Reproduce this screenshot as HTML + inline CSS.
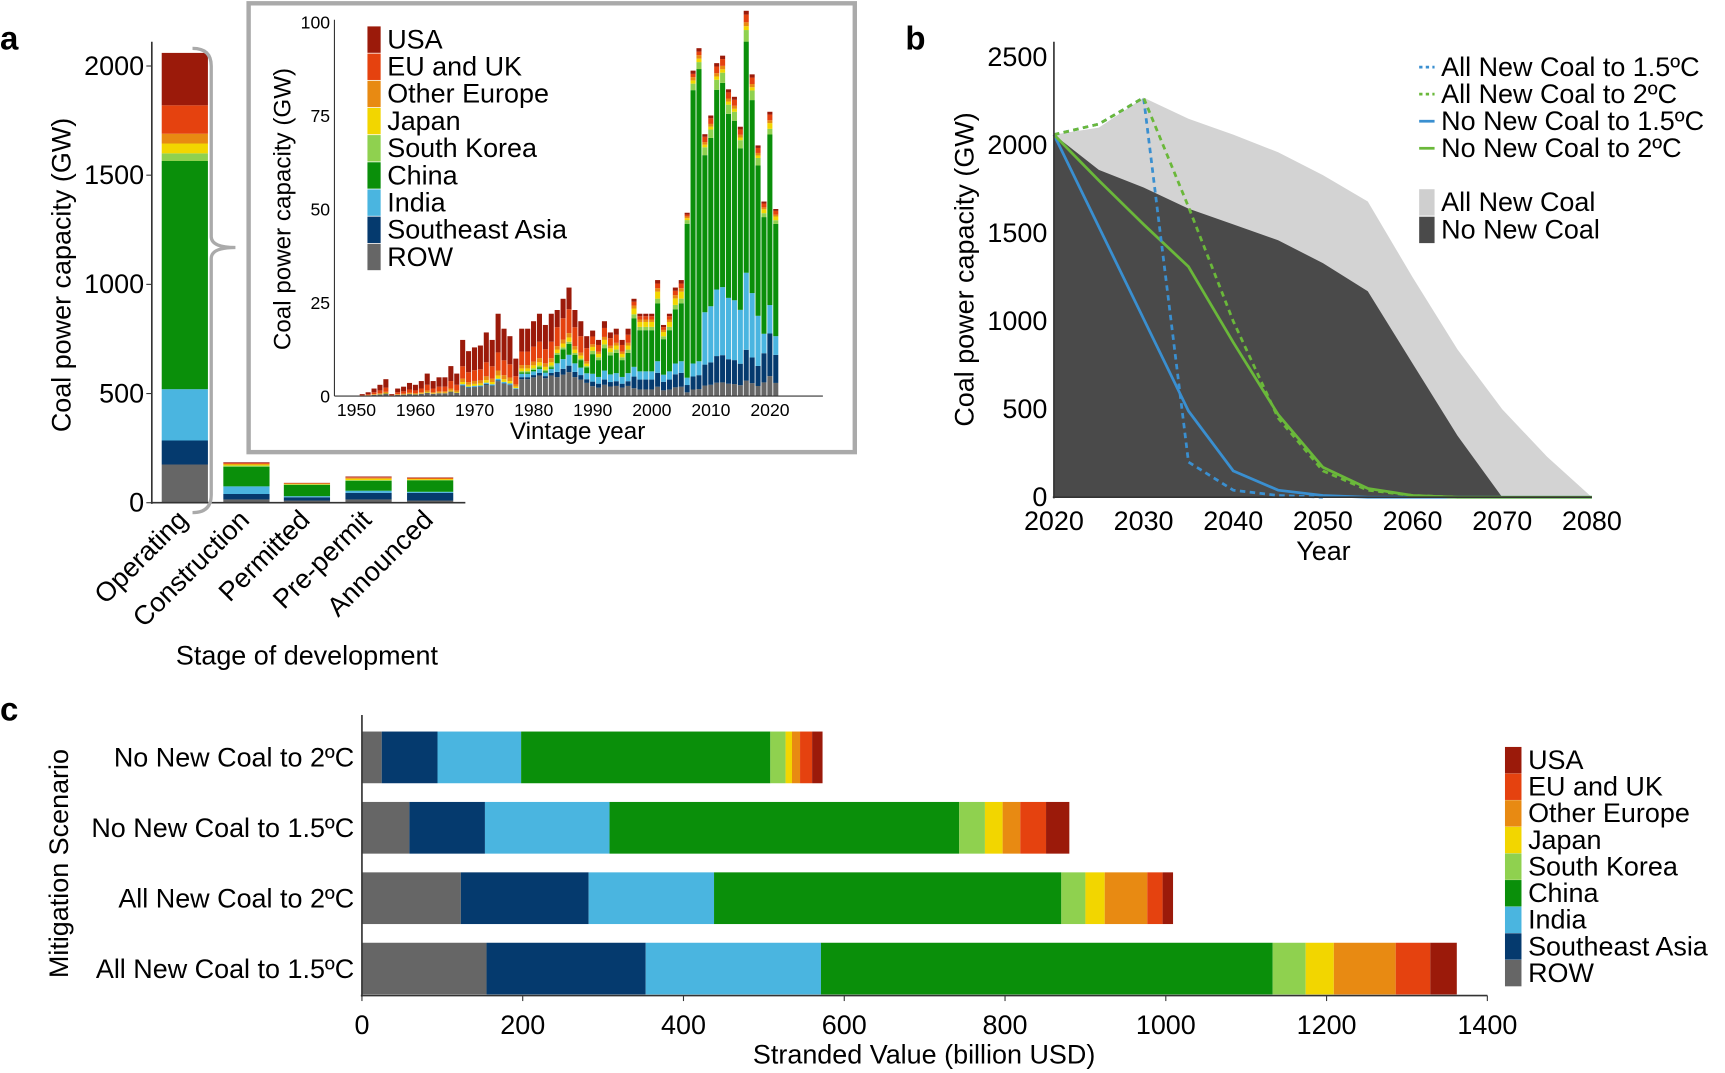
<!DOCTYPE html>
<html><head><meta charset="utf-8"><style>
html,body{margin:0;padding:0;background:#fff;width:1725px;height:1073px;overflow:hidden}
svg{display:block}
text{font-family:"Liberation Sans",Arial,sans-serif;fill:#000}
</style></head><body>
<svg id="s" width="1725" height="1073" viewBox="0 0 1568 975.4" preserveAspectRatio="none" xmlns="http://www.w3.org/2000/svg"></svg>
<script>
var S=document.getElementById('s'),h='';var F=24.5;
var C=['#666666','#053a6e','#4ab5e0','#0a8f0a','#8fd14f','#f2d600','#e88a12','#e5420f','#9b1a0a'];
var NAMES=['USA','EU and UK','Other Europe','Japan','South Korea','China','India','Southeast Asia','ROW'];
function R(x,y,w,hh,f){return '<rect x="'+x.toFixed(2)+'" y="'+y.toFixed(2)+'" width="'+w.toFixed(2)+'" height="'+Math.max(0,hh).toFixed(2)+'" fill="'+f+'"/>';}
function T(x,y,s,fs,a,ex){return '<text x="'+x+'" y="'+y+'" font-size="'+fs+'" text-anchor="'+(a||'start')+'" '+(ex||'')+'>'+s+'</text>';}
// ---- panel a left
h+=T(0,45,'a',30,'start','font-weight="bold"');
var ya=function(v){return 457-v*397/2000;};
[0,500,1000,1500,2000].forEach(function(v){h+=T(131,ya(v)+8,v,F,'end');h+='<line x1="133" x2="138" y1="'+ya(v)+'" y2="'+ya(v)+'" stroke="#333"/>';});
var stacks=[[147,[175,285,520,1565,1600,1645,1690,1820,2060]],[203,[15,40,75,165,170,175,178,182,185]],[258,[10,25,30,82,84,86,88,90,91]],[314,[15,45,55,100,104,110,114,117,120]],[370,[10,45,50,102,104,108,111,114,116]]];
stacks.forEach(function(s){var p=0;s[1].forEach(function(v,i){h+=R(s[0],ya(v),42,ya(p)-ya(v),C[i]);p=v;});});
h+='<line x1="138" y1="38" x2="138" y2="458" stroke="#333" stroke-width="1.5"/><line x1="137" y1="457" x2="423" y2="457" stroke="#333" stroke-width="1.5"/>';
h+='<path d="M175,44 Q192,44 192,60 L192,215 Q192,225 214,225 Q192,225 192,235 L192,450 Q192,466 175,466" fill="none" stroke="#aaa" stroke-width="3"/>';
['Operating','Construction','Permitted','Pre-permit','Announced'].forEach(function(l,i){var x=[172,228,283,339,395][i];h+=T(x,474,l,F,'end','transform="rotate(-45 '+x+' 474)"');});
h+=T(279,604,'Stage of development',F,'middle');
h+=T(0,0,'Coal power capacity (GW)',F,'middle','transform="translate(64,250) rotate(-90)"');
// ---- inset
h+='<rect x="226" y="3" width="551" height="408" fill="#fff" stroke="#aaa" stroke-width="4"/>';
var yi=function(v){return 360-v*3.4;};var xi=function(y){return 324+(y-1950)*5.37;};
[0,25,50,75,100].forEach(function(v){h+=T(300,yi(v)+6,v,16,'end');});
var tot={1951:.5,1952:1,1953:2,1954:3,1955:4.5,1956:.5,1957:2,1958:2.5,1959:3.5,1960:3,1961:4,1962:6,1963:4,1964:5,1965:5,1966:8,1967:6,1968:15,1969:12,1970:13,1971:13.5,1972:17,1973:15,1974:22,1975:18,1976:16,1977:10,1978:18,1979:18,1980:20,1981:22,1982:19,1983:22,1984:23,1985:26,1986:29,1987:23,1988:20,1989:16,1990:17.5,1991:15,1992:20,1993:17,1994:18,1995:15,1996:18,1997:26,1998:22,1999:22,2000:22,2001:31,2002:19,2003:22,2004:29,2005:31,2006:49,2007:87,2008:93,2009:70,2010:75,2011:89,2012:91,2013:82,2014:80,2015:72,2016:103,2017:86,2018:67,2019:52,2020:76,2021:50};
function comp(y){
 if(y<1968)return[.15,0,0,0,0,.03,.07,.25,.5];
 if(y<1978)return[.18,.01,.02,0,0,.04,.06,.22,.47];
 if(y<1984)return[.25,.03,.05,.02,.02,.04,.05,.2,.34];
 if(y<1990)return[.22,.06,.1,.1,.02,.04,.04,.22,.2];
 if(y<1997)return[.15,.07,.12,.3,.05,.06,.04,.12,.09];
 if(y<2006)return[.08,.12,.1,.5,.04,.06,.03,.04,.03];
 if(y<2009)return[.02,.04,.04,.84,.02,.01,.01,.01,.01];
 if(y<2019)return[.04,.08,.2,.6,.03,.01,.01,.02,.01];
 return[.07,.15,.1,.6,.02,.02,.01,.02,.01];}
for(var y in tot){var c=comp(+y),p=0,x=xi(+y)-2.4;c.forEach(function(f,i){var v=p+f*tot[y];h+=R(x,yi(v),4.6,yi(p)-yi(v),C[i]);p=v;});}
h+='<line x1="304" y1="18" x2="304" y2="360" stroke="#333"/><line x1="304" y1="360" x2="748" y2="360" stroke="#333"/>';
for(var yr=1950;yr<=2020;yr+=10)h+=T(xi(yr),378,yr,16,'middle');
h+=T(525,399,'Vintage year',22,'middle');
h+=T(0,0,'Coal power capacity (GW)',22,'middle','transform="translate(264,190) rotate(-90)"');
NAMES.forEach(function(n,i){var yy=24+i*24.7;h+=R(334,yy,12,24,C[8-i]);h+=T(352,yy+20,n,F);});
// ---- panel b
h+=T(823,45,'b',30,'start','font-weight="bold"');
var xb=function(y){return 958+(y-2020)*8.15;},yb=function(v){return 452-v*0.16;};
function pts(a){return a.map(function(p){return xb(p[0]).toFixed(1)+','+yb(p[1]).toFixed(1);}).join(' ');}
var light=[[2020,2060],[2025,2100],[2030,2270],[2035,2150],[2040,2060],[2045,1960],[2050,1830],[2055,1680],[2060,1250],[2065,840],[2070,500],[2075,230],[2080,0]];
var dark=[[2020,2060],[2025,1860],[2030,1760],[2035,1640],[2040,1550],[2045,1460],[2050,1330],[2055,1170],[2060,760],[2065,350],[2070,0]];
h+='<polygon points="'+pts(light.concat([[2020,0]]))+'" fill="#d3d3d3"/>';
h+='<polygon points="'+pts(dark.concat([[2020,0]]))+'" fill="#4a4a4a"/>';
function ln(a,col,d){h+='<polyline points="'+pts(a)+'" fill="none" stroke="'+col+'" stroke-width="2.5" '+(d?'stroke-dasharray="5,4"':'')+'/>';}
var B='#3a8fd0',G='#6ab83a';
ln([[2020,2060],[2035,490],[2040,150],[2045,40],[2050,10],[2055,0],[2080,0]],B);
ln([[2020,2060],[2025,1800],[2030,1550],[2035,1310],[2040,880],[2045,470],[2050,170],[2055,50],[2060,10],[2065,0],[2080,0]],G);
ln([[2020,2060],[2025,2120],[2030,2270],[2035,200],[2040,40],[2045,10],[2050,0]],B,1);
ln([[2020,2060],[2025,2120],[2030,2270],[2035,1650],[2040,1000],[2045,450],[2050,150],[2055,40],[2060,10],[2065,0]],G,1);
h+='<line x1="958" y1="38" x2="958" y2="453" stroke="#333" stroke-width="1.5"/><line x1="957" y1="452" x2="1447" y2="452" stroke="#333" stroke-width="1.5"/>';
[0,500,1000,1500,2000,2500].forEach(function(v){h+=T(952,yb(v)+8,v,F,'end');});
for(var yr=2020;yr<=2080;yr+=10)h+=T(xb(yr),482,yr,F,'middle');
h+=T(1203,509,'Year',F,'middle');
h+=T(0,0,'Coal power capacity (GW)',F,'middle','transform="translate(885,245) rotate(-90)"');
[['All New Coal to 1.5ºC',B,1],['All New Coal to 2ºC',G,1],['No New Coal to 1.5ºC',B,0],['No New Coal to 2ºC',G,0]].forEach(function(e,i){var yy=61+i*24.6;h+='<line x1="1290" x2="1304" y1="'+yy+'" y2="'+yy+'" stroke="'+e[1]+'" stroke-width="2.5" '+(e[2]?'stroke-dasharray="3,3"':'')+'/>';h+=T(1310,yy+8,e[0],F);});
h+=R(1290,172,14,24,'#cfcfcf')+R(1290,197,14,24,'#4a4a4a');
h+=T(1310,192,'All New Coal',F)+T(1310,217,'No New Coal',F);
// ---- panel c
h+=T(0,655,'c',30,'start','font-weight="bold"');
var xc=function(v){return 329+v*0.7307;};
var rows=[['No New Coal to 2ºC',665,[24.6,94,198,508,527,535,545,560,573]],['No New Coal to 1.5ºC',729,[59,153,308,743,775,797,819,851,880]],['All New Coal to 2ºC',793,[123,282,438,870,900,924,977,996,1009]],['All New Coal to 1.5ºC',857,[155,353,571,1133,1174,1209,1286,1329,1362]]];
rows.forEach(function(r){var p=0;r[2].forEach(function(v,i){h+=R(xc(p),r[1],xc(v)-xc(p),47,C[i]);p=v;});h+=T(322,r[1]+32,r[0],F,'end');});
h+='<line x1="329" y1="650" x2="329" y2="906" stroke="#333" stroke-width="1.5"/><line x1="328" y1="905" x2="1352" y2="905" stroke="#333" stroke-width="1.5"/>';
for(var v=0;v<=1400;v+=200){h+='<line x1="'+xc(v)+'" x2="'+xc(v)+'" y1="905" y2="910" stroke="#333"/>';h+=T(xc(v),940,v,F,'middle');}
h+=T(840,967,'Stranded Value (billion USD)',F,'middle');
h+=T(0,0,'Mitigation Scenario',F,'middle','transform="translate(62,785) rotate(-90)"');
NAMES.forEach(function(n,i){var yy=679+i*24.2;h+=R(1368,yy,15,24,C[8-i]);h+=T(1389,yy+20,n,F);});
S.innerHTML=h;
</script>
</body></html>
